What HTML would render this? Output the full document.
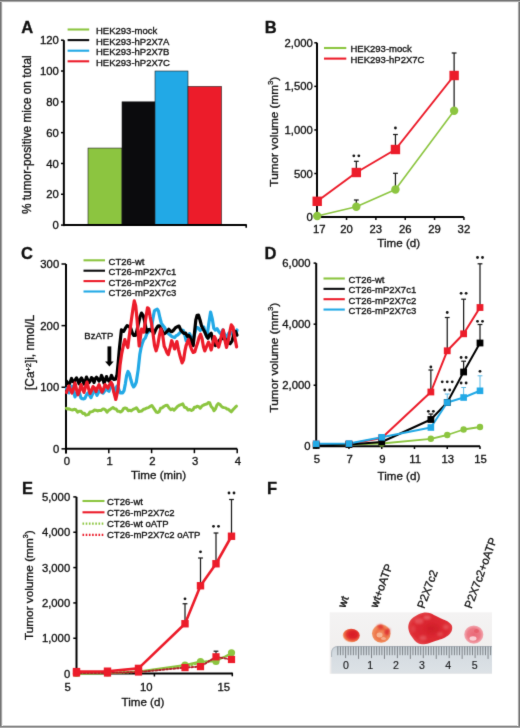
<!DOCTYPE html>
<html><head><meta charset="utf-8"><style>
html,body{margin:0;padding:0;background:#fff;}
#wrap{position:relative;width:520px;height:728px;overflow:hidden;background:#fff;}
svg{position:absolute;left:0;top:0;}
svg text{font-family:"Liberation Sans",sans-serif;fill:#111;stroke:#111;stroke-width:0.32px;}

</style></head><body><div id="wrap">
<svg width="520" height="728" viewBox="0 0 520 728">
<defs><filter id="glob" x="0" y="0" width="520" height="728" filterUnits="userSpaceOnUse" color-interpolation-filters="sRGB"><feConvolveMatrix order="3" kernelMatrix="0.01 0.08 0.01 0.08 0.64 0.08 0.01 0.08 0.01" divisor="1" edgeMode="duplicate" preserveAlpha="true"/></filter></defs>
<g filter="url(#glob)">
<rect x="0" y="0" width="520" height="728" fill="#fff"/>
<text x="21.30" y="33.20" font-size="16.5" text-anchor="start" font-weight="bold" >A</text>
<rect x="88" y="148.06" width="34" height="77.04" fill="#8cc540" stroke="#222" stroke-width="0.6"/>
<rect x="122" y="101.83" width="33" height="123.27" fill="#0b0b0d" stroke="#222" stroke-width="0.6"/>
<rect x="155" y="71.02" width="33" height="154.08" fill="#22a9e6" stroke="#222" stroke-width="0.6"/>
<rect x="188" y="86.43" width="33.5" height="138.67" fill="#ec1c2a" stroke="#222" stroke-width="0.6"/>
<line x1="63.85" y1="40.20" x2="63.85" y2="226.10" stroke="#000" stroke-width="2.0" />
<line x1="62.95" y1="225.10" x2="246.20" y2="225.10" stroke="#000" stroke-width="2.0" />
<line x1="246.20" y1="224.20" x2="246.20" y2="227.80" stroke="#000" stroke-width="1.6" />
<line x1="61.00" y1="225.10" x2="63.85" y2="225.10" stroke="#000" stroke-width="1.5" />
<text x="58.80" y="229.20" font-size="11.3" text-anchor="end" font-weight="normal" >0</text>
<line x1="61.00" y1="194.28" x2="63.85" y2="194.28" stroke="#000" stroke-width="1.5" />
<text x="58.80" y="198.38" font-size="11.3" text-anchor="end" font-weight="normal" >20</text>
<line x1="61.00" y1="163.47" x2="63.85" y2="163.47" stroke="#000" stroke-width="1.5" />
<text x="58.80" y="167.57" font-size="11.3" text-anchor="end" font-weight="normal" >40</text>
<line x1="61.00" y1="132.65" x2="63.85" y2="132.65" stroke="#000" stroke-width="1.5" />
<text x="58.80" y="136.75" font-size="11.3" text-anchor="end" font-weight="normal" >60</text>
<line x1="61.00" y1="101.83" x2="63.85" y2="101.83" stroke="#000" stroke-width="1.5" />
<text x="58.80" y="105.93" font-size="11.3" text-anchor="end" font-weight="normal" >80</text>
<line x1="61.00" y1="71.02" x2="63.85" y2="71.02" stroke="#000" stroke-width="1.5" />
<text x="58.80" y="75.12" font-size="11.3" text-anchor="end" font-weight="normal" >100</text>
<line x1="61.00" y1="40.20" x2="63.85" y2="40.20" stroke="#000" stroke-width="1.5" />
<text x="58.80" y="44.30" font-size="11.3" text-anchor="end" font-weight="normal" >120</text>
<text transform="translate(31.40,134.70) rotate(-90)" font-size="11.85" text-anchor="middle">% tumor-positive mice on total</text>
<line x1="67.60" y1="29.50" x2="89.20" y2="29.50" stroke="#8cc540" stroke-width="2.1" />
<text x="96.00" y="33.90" font-size="9.5" text-anchor="start" font-weight="normal" >HEK293-mock</text>
<line x1="67.60" y1="40.10" x2="89.20" y2="40.10" stroke="#0b0b0d" stroke-width="2.1" />
<text x="96.00" y="44.50" font-size="9.5" text-anchor="start" font-weight="normal" >HEK293-hP2X7A</text>
<line x1="67.60" y1="50.70" x2="89.20" y2="50.70" stroke="#22a9e6" stroke-width="2.1" />
<text x="96.00" y="55.10" font-size="9.5" text-anchor="start" font-weight="normal" >HEK293-hP2X7B</text>
<line x1="67.60" y1="61.30" x2="89.20" y2="61.30" stroke="#ec1c2a" stroke-width="2.1" />
<text x="96.00" y="65.70" font-size="9.5" text-anchor="start" font-weight="normal" >HEK293-hP2X7C</text>
<text x="264.80" y="33.30" font-size="16.5" text-anchor="start" font-weight="bold" >B</text>
<line x1="317.00" y1="42.80" x2="317.00" y2="218.00" stroke="#000" stroke-width="2.0" />
<line x1="316.10" y1="217.10" x2="463.80" y2="217.10" stroke="#000" stroke-width="2.0" />
<line x1="314.30" y1="217.10" x2="317.00" y2="217.10" stroke="#000" stroke-width="1.5" />
<text x="312.80" y="221.20" font-size="11.3" text-anchor="end" font-weight="normal" >0</text>
<line x1="314.30" y1="173.52" x2="317.00" y2="173.52" stroke="#000" stroke-width="1.5" />
<text x="312.80" y="177.62" font-size="11.3" text-anchor="end" font-weight="normal" >500</text>
<line x1="314.30" y1="129.95" x2="317.00" y2="129.95" stroke="#000" stroke-width="1.5" />
<text x="312.80" y="134.05" font-size="11.3" text-anchor="end" font-weight="normal" >1,000</text>
<line x1="314.30" y1="86.37" x2="317.00" y2="86.37" stroke="#000" stroke-width="1.5" />
<text x="312.80" y="90.47" font-size="11.3" text-anchor="end" font-weight="normal" >1,500</text>
<line x1="314.30" y1="42.80" x2="317.00" y2="42.80" stroke="#000" stroke-width="1.5" />
<text x="312.80" y="46.90" font-size="11.3" text-anchor="end" font-weight="normal" >2,000</text>
<line x1="317.20" y1="217.10" x2="317.20" y2="220.00" stroke="#000" stroke-width="1.5" />
<text x="319.20" y="233.00" font-size="11.3" text-anchor="middle" font-weight="normal" >17</text>
<line x1="346.54" y1="217.10" x2="346.54" y2="220.00" stroke="#000" stroke-width="1.5" />
<text x="346.54" y="233.00" font-size="11.3" text-anchor="middle" font-weight="normal" >20</text>
<line x1="375.88" y1="217.10" x2="375.88" y2="220.00" stroke="#000" stroke-width="1.5" />
<text x="375.88" y="233.00" font-size="11.3" text-anchor="middle" font-weight="normal" >23</text>
<line x1="405.22" y1="217.10" x2="405.22" y2="220.00" stroke="#000" stroke-width="1.5" />
<text x="405.22" y="233.00" font-size="11.3" text-anchor="middle" font-weight="normal" >26</text>
<line x1="434.56" y1="217.10" x2="434.56" y2="220.00" stroke="#000" stroke-width="1.5" />
<text x="434.56" y="233.00" font-size="11.3" text-anchor="middle" font-weight="normal" >29</text>
<line x1="463.90" y1="217.10" x2="463.90" y2="220.00" stroke="#000" stroke-width="1.5" />
<text x="463.90" y="233.00" font-size="11.3" text-anchor="middle" font-weight="normal" >32</text>
<text x="398.70" y="247.20" font-size="11.6" text-anchor="middle" font-weight="normal" >Time (d)</text>
<text transform="translate(277.90,131.75) rotate(-90)" font-size="11.8" text-anchor="middle">Tumor volume (mm<tspan font-size="7.2" dy="-4.6">3</tspan><tspan dy="4.6">)</tspan></text>
<line x1="324.00" y1="48.00" x2="346.30" y2="48.00" stroke="#8cc540" stroke-width="2.1" />
<text x="350.50" y="52.40" font-size="9.5" text-anchor="start" font-weight="normal" >HEK293-mock</text>
<line x1="324.00" y1="58.60" x2="346.30" y2="58.60" stroke="#ec1c2a" stroke-width="2.1" />
<text x="350.50" y="63.00" font-size="9.5" text-anchor="start" font-weight="normal" >HEK293-hP2X7C</text>
<line x1="356.32" y1="206.80" x2="356.32" y2="200.00" stroke="#1a1a1a" stroke-width="1.25" />
<line x1="353.92" y1="200.00" x2="358.72" y2="200.00" stroke="#1a1a1a" stroke-width="1.25" />
<line x1="395.44" y1="189.50" x2="395.44" y2="173.30" stroke="#1a1a1a" stroke-width="1.25" />
<line x1="393.04" y1="173.30" x2="397.84" y2="173.30" stroke="#1a1a1a" stroke-width="1.25" />
<line x1="454.12" y1="110.80" x2="454.12" y2="75.50" stroke="#1a1a1a" stroke-width="1.25" />
<line x1="451.72" y1="75.50" x2="456.52" y2="75.50" stroke="#1a1a1a" stroke-width="1.25" />
<line x1="317.20" y1="216.00" x2="317.20" y2="201.00" stroke="#1a1a1a" stroke-width="1.25" />
<line x1="314.80" y1="201.00" x2="319.60" y2="201.00" stroke="#1a1a1a" stroke-width="1.25" />
<line x1="356.32" y1="172.50" x2="356.32" y2="161.30" stroke="#1a1a1a" stroke-width="1.25" />
<line x1="353.92" y1="161.30" x2="358.72" y2="161.30" stroke="#1a1a1a" stroke-width="1.25" />
<line x1="395.44" y1="149.50" x2="395.44" y2="134.50" stroke="#1a1a1a" stroke-width="1.25" />
<line x1="393.04" y1="134.50" x2="397.84" y2="134.50" stroke="#1a1a1a" stroke-width="1.25" />
<line x1="454.12" y1="75.50" x2="454.12" y2="53.00" stroke="#1a1a1a" stroke-width="1.25" />
<line x1="451.72" y1="53.00" x2="456.52" y2="53.00" stroke="#1a1a1a" stroke-width="1.25" />
<polyline points="317.20,216.00 356.32,206.80 395.44,189.50 454.12,110.80" fill="none" stroke="#8cc540" stroke-width="1.6" stroke-linejoin="round" stroke-linecap="round" />
<polyline points="317.20,201.30 356.32,172.50 395.44,149.50 454.12,75.50" fill="none" stroke="#ec1c2a" stroke-width="2.0" stroke-linejoin="round" stroke-linecap="round" />
<circle cx="317.20" cy="216.00" r="4.2" fill="#8cc540"/>
<circle cx="356.32" cy="206.80" r="4.2" fill="#8cc540"/>
<circle cx="395.44" cy="189.50" r="4.2" fill="#8cc540"/>
<circle cx="454.12" cy="110.80" r="4.2" fill="#8cc540"/>
<rect x="312.50" y="196.60" width="9.4" height="9.4" fill="#ec1c2a"/>
<rect x="351.62" y="167.80" width="9.4" height="9.4" fill="#ec1c2a"/>
<rect x="390.74" y="144.80" width="9.4" height="9.4" fill="#ec1c2a"/>
<rect x="449.42" y="70.80" width="9.4" height="9.4" fill="#ec1c2a"/>
<circle cx="353.82" cy="155.80" r="1.4" fill="#151515"/>
<circle cx="358.82" cy="155.80" r="1.4" fill="#151515"/>
<circle cx="395.44" cy="128.00" r="1.4" fill="#151515"/>
<text x="21.00" y="259.30" font-size="16.5" text-anchor="start" font-weight="bold" >C</text>
<line x1="66.00" y1="264.00" x2="66.00" y2="453.50" stroke="#000" stroke-width="2.0" />
<line x1="65.10" y1="448.85" x2="237.20" y2="448.85" stroke="#000" stroke-width="2.0" />
<line x1="61.50" y1="448.85" x2="66.00" y2="448.85" stroke="#000" stroke-width="1.5" />
<text x="59.20" y="452.95" font-size="11.3" text-anchor="end" font-weight="normal" >0</text>
<line x1="61.50" y1="387.23" x2="66.00" y2="387.23" stroke="#000" stroke-width="1.5" />
<text x="59.20" y="391.33" font-size="11.3" text-anchor="end" font-weight="normal" >100</text>
<line x1="61.50" y1="325.62" x2="66.00" y2="325.62" stroke="#000" stroke-width="1.5" />
<text x="59.20" y="329.72" font-size="11.3" text-anchor="end" font-weight="normal" >200</text>
<line x1="61.50" y1="264.00" x2="66.00" y2="264.00" stroke="#000" stroke-width="1.5" />
<text x="59.20" y="268.10" font-size="11.3" text-anchor="end" font-weight="normal" >300</text>
<line x1="66.00" y1="448.85" x2="66.00" y2="453.20" stroke="#000" stroke-width="1.5" />
<text x="66.80" y="465.00" font-size="11.3" text-anchor="middle" font-weight="normal" >0</text>
<line x1="108.80" y1="448.85" x2="108.80" y2="453.20" stroke="#000" stroke-width="1.5" />
<text x="109.60" y="465.00" font-size="11.3" text-anchor="middle" font-weight="normal" >1</text>
<line x1="151.60" y1="448.85" x2="151.60" y2="453.20" stroke="#000" stroke-width="1.5" />
<text x="152.40" y="465.00" font-size="11.3" text-anchor="middle" font-weight="normal" >2</text>
<line x1="194.40" y1="448.85" x2="194.40" y2="453.20" stroke="#000" stroke-width="1.5" />
<text x="195.20" y="465.00" font-size="11.3" text-anchor="middle" font-weight="normal" >3</text>
<line x1="237.20" y1="448.85" x2="237.20" y2="453.20" stroke="#000" stroke-width="1.5" />
<text x="238.00" y="465.00" font-size="11.3" text-anchor="middle" font-weight="normal" >4</text>
<text x="158.60" y="479.00" font-size="11.6" text-anchor="middle" font-weight="normal" >Time (min)</text>
<text transform="translate(34.20,352.40) rotate(-90)" font-size="11.9" text-anchor="middle">[Ca<tspan font-size="7.3" dy="-3.6">+2</tspan><tspan dy="3.6">]i, nmol/L</tspan></text>
<line x1="83.50" y1="260.30" x2="105.00" y2="260.30" stroke="#8cc540" stroke-width="2.1" />
<text x="108.60" y="264.70" font-size="9.5" text-anchor="start" font-weight="normal" >CT26-wt</text>
<line x1="83.50" y1="270.70" x2="105.00" y2="270.70" stroke="#0b0b0d" stroke-width="2.1" />
<text x="108.60" y="275.10" font-size="9.5" text-anchor="start" font-weight="normal" >CT26-mP2X7c1</text>
<line x1="83.50" y1="281.10" x2="105.00" y2="281.10" stroke="#ec1c2a" stroke-width="2.1" />
<text x="108.60" y="285.50" font-size="9.5" text-anchor="start" font-weight="normal" >CT26-mP2X7c2</text>
<line x1="83.50" y1="291.50" x2="105.00" y2="291.50" stroke="#22a9e6" stroke-width="2.1" />
<text x="108.60" y="295.90" font-size="9.5" text-anchor="start" font-weight="normal" >CT26-mP2X7c3</text>
<text x="98.80" y="338.50" font-size="9.5" text-anchor="middle" font-weight="normal" >BzATP</text>
<rect x="107.5" y="346.4" width="3.8" height="16" fill="#000"/>
<polygon points="105.1,361.6 113.7,361.6 109.4,366.4" fill="#000"/>
<polyline points="66.30,408.22 67.42,409.04 69.03,408.86 70.80,409.63 72.40,409.98 74.20,409.28 75.90,409.79 77.60,412.14 79.37,411.17 81.13,411.32 82.80,413.39 84.30,413.20 85.70,415.16 87.10,414.85 88.53,414.42 89.97,411.89 91.40,411.70 92.86,411.38 94.33,410.00 95.70,410.23 97.50,410.98 99.20,410.44 100.90,410.61 102.70,409.00 104.01,409.10 105.41,409.82 107.00,412.20 108.38,410.55 109.89,409.63 111.45,408.57 113.00,407.57 114.52,408.66 116.05,408.91 117.58,411.27 119.10,411.28 120.60,412.09 122.10,411.09 123.60,408.42 125.10,408.00 126.64,408.42 128.20,410.72 129.74,410.22 131.20,410.88 133.10,409.40 134.89,408.60 136.40,407.75 137.65,409.42 139.00,411.59 140.28,411.18 141.85,410.91 143.49,409.30 145.00,408.94 146.80,407.97 148.48,407.62 150.00,406.58 151.79,405.47 153.50,407.89 154.87,409.92 156.34,412.07 157.80,412.45 159.20,411.65 160.60,408.26 162.10,407.83 163.77,406.48 165.53,405.54 167.30,405.24 169.07,408.01 170.83,409.83 172.50,408.79 174.00,410.28 175.40,408.75 176.80,407.23 178.20,405.96 179.60,405.12 181.10,404.52 182.77,403.86 184.53,407.31 186.30,407.80 188.07,410.05 189.83,409.51 191.50,410.54 193.00,409.72 194.39,407.15 195.80,407.30 197.23,406.18 198.67,406.67 200.20,408.22 201.91,406.09 203.70,405.00 205.40,404.30 206.90,404.02 208.30,402.61 209.70,402.69 211.13,406.45 212.57,407.93 214.00,410.71 215.43,409.11 216.86,405.18 218.30,403.61 219.76,404.27 221.24,406.12 222.70,407.31 224.14,407.62 225.57,407.87 227.00,408.97 228.40,409.28 229.80,410.66 231.30,411.88 233.16,409.53 235.12,407.43 236.50,406.20" fill="none" stroke="#8cc540" stroke-width="3.0" stroke-linejoin="round" stroke-linecap="round" />
<polyline points="66.50,388.47 67.56,390.58 69.00,392.79 70.47,389.00 72.00,386.13 73.50,391.30 75.00,396.84 76.50,393.66 78.00,390.53 79.44,393.01 81.00,398.07 82.30,398.70 83.70,398.86 85.00,398.21 86.56,394.68 88.00,392.85 89.50,395.16 91.00,397.61 92.50,394.10 94.00,389.39 95.50,392.06 97.00,395.25 98.50,392.46 100.00,389.71 101.50,392.26 103.00,393.17 104.50,391.27 106.00,388.34 107.55,390.20 109.00,391.36 111.20,382.95 112.55,385.93 114.00,391.87 115.49,389.36 117.00,386.10 118.44,388.41 120.00,392.82 121.26,392.69 122.63,392.96 124.00,390.70 125.33,383.83 126.65,375.59 128.00,371.50 129.39,373.84 130.80,379.56 132.20,384.41 133.60,386.93 134.98,385.19 136.30,382.09 138.15,369.87 139.80,354.56 140.98,348.09 142.30,343.34 143.68,339.76 145.29,338.00 146.90,333.59 148.50,331.90 150.09,329.61 151.50,327.57 152.98,318.32 154.40,310.81 155.73,309.92 157.19,309.20 158.50,311.22 159.94,317.97 161.30,323.00 162.90,325.58 164.80,327.86 166.43,331.26 168.25,333.56 170.00,334.87 171.59,336.44 173.10,336.98 174.60,337.62 176.09,335.69 177.55,335.12 179.00,333.79 180.50,332.13 181.98,330.05 183.30,330.52 184.75,334.67 186.10,340.68 187.84,338.22 189.60,333.65 191.09,337.60 192.60,342.49 194.41,334.65 196.30,327.34 198.14,327.71 200.00,330.38 201.94,329.03 203.80,327.07 205.36,333.07 206.90,337.22 208.74,323.85 210.60,312.02 212.23,318.58 213.80,328.24 215.40,330.13 217.00,328.63 218.64,331.39 220.20,333.39 221.50,332.87 222.80,329.85 224.30,333.75 226.00,337.52 227.33,336.04 228.76,333.15 230.20,332.35 231.66,332.67 233.12,335.12 234.40,337.28 235.96,333.48 237.00,330.00" fill="none" stroke="#22a9e6" stroke-width="3.2" stroke-linejoin="round" stroke-linecap="round" />
<polyline points="66.50,381.25 67.59,383.36 69.00,384.59 70.25,381.76 71.50,378.48 72.75,381.34 74.00,382.06 75.25,379.87 76.50,377.89 77.75,380.24 79.00,383.80 80.25,379.73 81.50,377.94 82.75,380.56 84.00,384.09 85.25,381.21 86.50,377.03 87.75,379.93 89.00,382.56 90.25,380.83 91.50,377.53 92.75,378.76 94.00,382.59 95.25,378.78 96.50,377.23 97.75,378.82 99.00,381.00 100.25,379.68 101.50,375.42 102.75,378.37 104.00,382.96 105.25,380.37 106.50,376.58 107.75,379.92 109.00,381.08 110.25,378.92 111.50,375.41 112.72,378.38 114.00,379.38 115.50,379.25 117.00,374.79 118.32,361.38 119.50,347.72 121.40,329.83 123.70,331.29 125.40,328.18 127.10,325.60 129.40,326.91 130.85,328.45 132.54,333.49 133.90,335.48 135.40,335.42 136.67,331.63 138.36,323.89 140.09,316.75 141.50,313.06 143.24,315.68 144.50,320.61 146.70,332.25 148.24,329.56 150.00,329.50 151.29,330.96 152.65,331.28 154.00,333.58 155.94,329.17 157.90,326.16 159.29,325.87 160.71,328.13 162.00,330.36 163.52,334.07 165.00,333.39 166.89,331.67 168.80,329.26 170.29,331.11 172.00,331.69 173.70,330.01 175.66,327.59 177.50,326.55 179.04,326.09 180.48,329.47 182.00,331.59 183.80,333.32 185.70,333.21 187.30,336.29 188.78,335.34 190.00,336.98 191.61,342.93 193.20,345.54 194.53,332.37 195.80,320.15 197.12,315.26 198.50,315.22 200.08,320.28 201.60,326.05 203.80,330.16 205.09,332.60 206.60,336.20 208.00,338.29 209.60,334.74 211.20,333.30 212.53,338.62 213.96,342.79 215.40,345.61 216.76,344.24 218.12,341.91 219.60,340.05 221.29,338.68 223.09,338.69 224.90,338.51 226.67,341.98 228.43,342.43 230.20,343.69 232.11,340.78 234.01,333.87 235.50,331.46 237.00,335.20" fill="none" stroke="#000" stroke-width="3.2" stroke-linejoin="round" stroke-linecap="round" />
<polyline points="66.50,392.59 67.56,389.14 69.00,385.97 70.47,389.84 72.00,393.00 73.50,388.58 75.00,382.94 76.50,389.46 78.00,394.75 79.50,390.85 81.00,384.55 82.50,389.10 84.00,392.46 85.50,386.52 87.00,382.08 88.50,388.24 90.00,393.39 91.50,390.54 93.00,386.61 94.50,387.97 96.00,391.61 97.50,387.62 99.00,384.69 100.50,388.30 102.00,392.19 103.50,389.35 105.00,384.61 106.50,386.27 108.00,388.19 109.53,384.71 111.00,382.27 112.29,384.56 113.50,390.90 115.80,399.48 118.00,389.40 120.00,365.31 121.68,353.55 123.30,345.87 124.80,339.62 126.25,343.78 127.80,347.49 130.10,329.40 131.42,319.61 132.95,308.96 134.30,300.86 135.72,305.98 136.90,317.90 139.20,346.01 141.50,329.18 143.70,332.18 145.49,320.35 147.50,307.75 148.80,308.80 150.11,316.37 151.50,323.42 152.99,333.45 154.54,345.57 156.10,350.78 157.71,345.49 159.33,335.72 160.80,328.80 162.54,334.13 164.20,346.26 165.54,348.89 166.96,352.65 168.30,354.61 170.08,347.69 171.70,340.71 173.22,344.54 174.60,348.98 176.90,341.55 178.46,349.60 180.35,357.08 182.10,362.85 183.59,359.74 184.94,350.95 186.10,345.56 188.40,339.49 189.88,344.40 191.63,349.51 193.20,352.44 194.78,351.83 196.30,346.79 197.65,342.79 199.13,337.11 200.60,334.23 202.03,338.56 203.44,346.74 204.80,350.92 206.74,346.05 208.50,342.09 209.89,345.53 211.20,349.98 212.65,344.14 214.30,336.64 215.63,338.87 217.09,344.08 218.60,347.08 220.19,341.66 221.83,333.55 223.30,329.90 224.89,340.21 226.50,347.41 228.04,341.75 229.77,332.14 231.30,324.82 233.01,327.25 234.40,335.15 236.60,346.90" fill="none" stroke="#ec1c2a" stroke-width="3.2" stroke-linejoin="round" stroke-linecap="round" />
<text x="264.60" y="259.40" font-size="16.5" text-anchor="start" font-weight="bold" >D</text>
<line x1="316.20" y1="263.10" x2="316.20" y2="448.00" stroke="#000" stroke-width="2.0" />
<line x1="315.30" y1="446.30" x2="480.00" y2="446.30" stroke="#000" stroke-width="2.0" />
<line x1="313.60" y1="446.30" x2="316.20" y2="446.30" stroke="#000" stroke-width="1.5" />
<text x="310.60" y="450.40" font-size="11.3" text-anchor="end" font-weight="normal" >0</text>
<line x1="313.60" y1="385.23" x2="316.20" y2="385.23" stroke="#000" stroke-width="1.5" />
<text x="310.60" y="389.33" font-size="11.3" text-anchor="end" font-weight="normal" >2,000</text>
<line x1="313.60" y1="324.17" x2="316.20" y2="324.17" stroke="#000" stroke-width="1.5" />
<text x="310.60" y="328.27" font-size="11.3" text-anchor="end" font-weight="normal" >4,000</text>
<line x1="313.60" y1="263.10" x2="316.20" y2="263.10" stroke="#000" stroke-width="1.5" />
<text x="310.60" y="267.20" font-size="11.3" text-anchor="end" font-weight="normal" >6,000</text>
<line x1="316.20" y1="446.30" x2="316.20" y2="449.00" stroke="#000" stroke-width="1.5" />
<text x="316.80" y="462.80" font-size="11.3" text-anchor="middle" font-weight="normal" >5</text>
<line x1="348.96" y1="446.30" x2="348.96" y2="449.00" stroke="#000" stroke-width="1.5" />
<text x="349.56" y="462.80" font-size="11.3" text-anchor="middle" font-weight="normal" >7</text>
<line x1="381.72" y1="446.30" x2="381.72" y2="449.00" stroke="#000" stroke-width="1.5" />
<text x="382.32" y="462.80" font-size="11.3" text-anchor="middle" font-weight="normal" >9</text>
<line x1="414.48" y1="446.30" x2="414.48" y2="449.00" stroke="#000" stroke-width="1.5" />
<text x="415.08" y="462.80" font-size="11.3" text-anchor="middle" font-weight="normal" >11</text>
<line x1="447.24" y1="446.30" x2="447.24" y2="449.00" stroke="#000" stroke-width="1.5" />
<text x="447.84" y="462.80" font-size="11.3" text-anchor="middle" font-weight="normal" >13</text>
<line x1="480.00" y1="446.30" x2="480.00" y2="449.00" stroke="#000" stroke-width="1.5" />
<text x="480.60" y="462.80" font-size="11.3" text-anchor="middle" font-weight="normal" >15</text>
<text x="398.90" y="479.90" font-size="11.6" text-anchor="middle" font-weight="normal" >Time (d)</text>
<text transform="translate(277.90,357.65) rotate(-90)" font-size="11.8" text-anchor="middle">Tumor volume (mm<tspan font-size="7.2" dy="-4.6">3</tspan><tspan dy="4.6">)</tspan></text>
<line x1="323.50" y1="278.50" x2="344.80" y2="278.50" stroke="#8cc540" stroke-width="2.1" />
<text x="348.60" y="282.90" font-size="9.5" text-anchor="start" font-weight="normal" >CT26-wt</text>
<line x1="323.50" y1="288.85" x2="344.80" y2="288.85" stroke="#0b0b0d" stroke-width="2.1" />
<text x="348.60" y="293.25" font-size="9.5" text-anchor="start" font-weight="normal" >CT26-mP2X7c1</text>
<line x1="323.50" y1="299.20" x2="344.80" y2="299.20" stroke="#ec1c2a" stroke-width="2.1" />
<text x="348.60" y="303.60" font-size="9.5" text-anchor="start" font-weight="normal" >CT26-mP2X7c2</text>
<line x1="323.50" y1="309.55" x2="344.80" y2="309.55" stroke="#22a9e6" stroke-width="2.1" />
<text x="348.60" y="313.95" font-size="9.5" text-anchor="start" font-weight="normal" >CT26-mP2X7c3</text>
<line x1="430.86" y1="392.00" x2="430.86" y2="370.00" stroke="#1a1a1a" stroke-width="1.25" />
<line x1="428.46" y1="370.00" x2="433.26" y2="370.00" stroke="#1a1a1a" stroke-width="1.25" />
<line x1="447.24" y1="350.80" x2="447.24" y2="317.50" stroke="#1a1a1a" stroke-width="1.25" />
<line x1="444.84" y1="317.50" x2="449.64" y2="317.50" stroke="#1a1a1a" stroke-width="1.25" />
<line x1="463.62" y1="333.80" x2="463.62" y2="299.20" stroke="#1a1a1a" stroke-width="1.25" />
<line x1="461.22" y1="299.20" x2="466.02" y2="299.20" stroke="#1a1a1a" stroke-width="1.25" />
<line x1="480.00" y1="307.50" x2="480.00" y2="263.80" stroke="#1a1a1a" stroke-width="1.25" />
<line x1="477.60" y1="263.80" x2="482.40" y2="263.80" stroke="#1a1a1a" stroke-width="1.25" />
<line x1="480.00" y1="343.00" x2="480.00" y2="324.50" stroke="#1a1a1a" stroke-width="1.25" />
<line x1="477.60" y1="324.50" x2="482.40" y2="324.50" stroke="#1a1a1a" stroke-width="1.25" />
<line x1="463.62" y1="372.00" x2="463.62" y2="361.20" stroke="#1a1a1a" stroke-width="1.25" />
<line x1="461.22" y1="361.20" x2="466.02" y2="361.20" stroke="#1a1a1a" stroke-width="1.25" />
<line x1="430.86" y1="419.50" x2="430.86" y2="414.00" stroke="#1a1a1a" stroke-width="1.25" />
<line x1="428.46" y1="414.00" x2="433.26" y2="414.00" stroke="#1a1a1a" stroke-width="1.25" />
<line x1="463.62" y1="397.50" x2="463.62" y2="387.50" stroke="#5ab8e4" stroke-width="1.0" />
<line x1="461.22" y1="387.50" x2="466.02" y2="387.50" stroke="#5ab8e4" stroke-width="1.0" />
<line x1="480.00" y1="390.80" x2="480.00" y2="375.80" stroke="#5ab8e4" stroke-width="1.0" />
<line x1="477.60" y1="375.80" x2="482.40" y2="375.80" stroke="#5ab8e4" stroke-width="1.0" />
<line x1="447.24" y1="402.50" x2="447.24" y2="394.00" stroke="#5ab8e4" stroke-width="1.0" />
<line x1="444.84" y1="394.00" x2="449.64" y2="394.00" stroke="#5ab8e4" stroke-width="1.0" />
<polyline points="316.20,444.50 348.96,444.50 381.72,443.50 430.86,438.80 447.24,435.00 463.62,429.50 480.00,427.00" fill="none" stroke="#8cc540" stroke-width="1.8" stroke-linejoin="round" stroke-linecap="round" />
<polyline points="316.20,444.00 348.96,444.00 381.72,438.00 430.86,392.00 447.24,350.80 463.62,333.80 480.00,307.50" fill="none" stroke="#ec1c2a" stroke-width="2.0" stroke-linejoin="round" stroke-linecap="round" />
<polyline points="316.20,445.50 348.96,444.50 381.72,442.00 430.86,419.50 447.24,402.50 463.62,372.00 480.00,343.00" fill="none" stroke="#000" stroke-width="2.0" stroke-linejoin="round" stroke-linecap="round" />
<polyline points="316.20,443.80 348.96,443.60 381.72,437.30 430.86,427.50 447.24,402.50 463.62,397.50 480.00,390.80" fill="none" stroke="#22a9e6" stroke-width="2.0" stroke-linejoin="round" stroke-linecap="round" />
<circle cx="316.20" cy="444.50" r="3.2" fill="#8cc540"/>
<circle cx="348.96" cy="444.50" r="3.2" fill="#8cc540"/>
<circle cx="381.72" cy="443.50" r="3.2" fill="#8cc540"/>
<circle cx="430.86" cy="438.80" r="3.2" fill="#8cc540"/>
<circle cx="447.24" cy="435.00" r="3.2" fill="#8cc540"/>
<circle cx="463.62" cy="429.50" r="3.2" fill="#8cc540"/>
<circle cx="480.00" cy="427.00" r="3.2" fill="#8cc540"/>
<rect x="312.80" y="440.60" width="6.8" height="6.8" fill="#ec1c2a"/>
<rect x="345.56" y="440.60" width="6.8" height="6.8" fill="#ec1c2a"/>
<rect x="378.32" y="434.60" width="6.8" height="6.8" fill="#ec1c2a"/>
<rect x="427.46" y="388.60" width="6.8" height="6.8" fill="#ec1c2a"/>
<rect x="443.84" y="347.40" width="6.8" height="6.8" fill="#ec1c2a"/>
<rect x="460.22" y="330.40" width="6.8" height="6.8" fill="#ec1c2a"/>
<rect x="476.60" y="304.10" width="6.8" height="6.8" fill="#ec1c2a"/>
<rect x="312.80" y="442.10" width="6.8" height="6.8" fill="#000"/>
<rect x="345.56" y="441.10" width="6.8" height="6.8" fill="#000"/>
<rect x="378.32" y="438.60" width="6.8" height="6.8" fill="#000"/>
<rect x="427.46" y="416.10" width="6.8" height="6.8" fill="#000"/>
<rect x="443.84" y="399.10" width="6.8" height="6.8" fill="#000"/>
<rect x="460.22" y="368.60" width="6.8" height="6.8" fill="#000"/>
<rect x="476.60" y="339.60" width="6.8" height="6.8" fill="#000"/>
<rect x="312.90" y="440.50" width="6.6" height="6.6" fill="#22a9e6"/>
<rect x="345.66" y="440.30" width="6.6" height="6.6" fill="#22a9e6"/>
<rect x="378.42" y="434.00" width="6.6" height="6.6" fill="#22a9e6"/>
<rect x="427.56" y="424.20" width="6.6" height="6.6" fill="#22a9e6"/>
<rect x="443.94" y="399.20" width="6.6" height="6.6" fill="#22a9e6"/>
<rect x="460.32" y="394.20" width="6.6" height="6.6" fill="#22a9e6"/>
<rect x="476.70" y="387.50" width="6.6" height="6.6" fill="#22a9e6"/>
<circle cx="430.86" cy="367.00" r="1.4" fill="#151515"/>
<circle cx="447.24" cy="312.50" r="1.4" fill="#151515"/>
<circle cx="461.12" cy="293.30" r="1.4" fill="#151515"/>
<circle cx="466.12" cy="293.30" r="1.4" fill="#151515"/>
<circle cx="477.50" cy="257.50" r="1.4" fill="#151515"/>
<circle cx="482.50" cy="257.50" r="1.4" fill="#151515"/>
<circle cx="477.50" cy="321.30" r="1.4" fill="#151515"/>
<circle cx="482.50" cy="321.30" r="1.4" fill="#151515"/>
<circle cx="461.12" cy="357.50" r="1.4" fill="#151515"/>
<circle cx="466.12" cy="357.50" r="1.4" fill="#151515"/>
<circle cx="428.36" cy="411.30" r="1.4" fill="#151515"/>
<circle cx="433.36" cy="411.30" r="1.4" fill="#151515"/>
<circle cx="442.24" cy="381.80" r="1.4" fill="#151515"/>
<circle cx="447.24" cy="381.80" r="1.4" fill="#151515"/>
<circle cx="452.24" cy="381.80" r="1.4" fill="#151515"/>
<circle cx="444.74" cy="390.00" r="1.4" fill="#151515"/>
<circle cx="449.74" cy="390.00" r="1.4" fill="#151515"/>
<circle cx="461.12" cy="383.00" r="1.4" fill="#151515"/>
<circle cx="466.12" cy="383.00" r="1.4" fill="#151515"/>
<circle cx="480.00" cy="371.30" r="1.4" fill="#151515"/>
<text x="22.00" y="494.30" font-size="16.5" text-anchor="start" font-weight="bold" >E</text>
<line x1="76.50" y1="496.90" x2="76.50" y2="674.50" stroke="#000" stroke-width="2.0" />
<line x1="75.60" y1="673.60" x2="232.30" y2="673.60" stroke="#000" stroke-width="2.0" />
<line x1="232.30" y1="672.70" x2="232.30" y2="676.30" stroke="#000" stroke-width="1.5" />
<line x1="154.40" y1="673.60" x2="154.40" y2="676.50" stroke="#000" stroke-width="1.5" />
<line x1="73.30" y1="673.60" x2="76.50" y2="673.60" stroke="#000" stroke-width="1.5" />
<text x="70.20" y="677.70" font-size="11.3" text-anchor="end" font-weight="normal" >0</text>
<line x1="73.30" y1="638.26" x2="76.50" y2="638.26" stroke="#000" stroke-width="1.5" />
<text x="70.20" y="642.36" font-size="11.3" text-anchor="end" font-weight="normal" >1,000</text>
<line x1="73.30" y1="602.92" x2="76.50" y2="602.92" stroke="#000" stroke-width="1.5" />
<text x="70.20" y="607.02" font-size="11.3" text-anchor="end" font-weight="normal" >2,000</text>
<line x1="73.30" y1="567.58" x2="76.50" y2="567.58" stroke="#000" stroke-width="1.5" />
<text x="70.20" y="571.68" font-size="11.3" text-anchor="end" font-weight="normal" >3,000</text>
<line x1="73.30" y1="532.24" x2="76.50" y2="532.24" stroke="#000" stroke-width="1.5" />
<text x="70.20" y="536.34" font-size="11.3" text-anchor="end" font-weight="normal" >4,000</text>
<line x1="73.30" y1="496.90" x2="76.50" y2="496.90" stroke="#000" stroke-width="1.5" />
<text x="70.20" y="501.00" font-size="11.3" text-anchor="end" font-weight="normal" >5,000</text>
<text x="67.70" y="690.80" font-size="11.3" text-anchor="middle" font-weight="normal" >5</text>
<text x="146.30" y="690.80" font-size="11.3" text-anchor="middle" font-weight="normal" >10</text>
<text x="223.80" y="690.80" font-size="11.3" text-anchor="middle" font-weight="normal" >15</text>
<text x="142.90" y="706.20" font-size="11.6" text-anchor="middle" font-weight="normal" >Time (d)</text>
<text transform="translate(32.80,585.20) rotate(-90)" font-size="11.8" text-anchor="middle">Tumor volume (mm<tspan font-size="7.2" dy="-4.6">3</tspan><tspan dy="4.6">)</tspan></text>
<line x1="82.50" y1="501.00" x2="104.50" y2="501.00" stroke="#8cc540" stroke-width="2.1" />
<text x="107.00" y="504.50" font-size="9.5" text-anchor="start" font-weight="normal" >CT26-wt</text>
<line x1="82.50" y1="512.30" x2="104.50" y2="512.30" stroke="#ec1c2a" stroke-width="2.1" />
<text x="107.00" y="515.80" font-size="9.5" text-anchor="start" font-weight="normal" >CT26-mP2X7c2</text>
<line x1="82.50" y1="523.60" x2="104.50" y2="523.60" stroke="#8cc540" stroke-width="2.1" stroke-dasharray="1.6,1.6"/>
<text x="107.00" y="527.10" font-size="9.5" text-anchor="start" font-weight="normal" >CT26-wt oATP</text>
<line x1="82.50" y1="534.90" x2="104.50" y2="534.90" stroke="#ec1c2a" stroke-width="2.1" stroke-dasharray="1.6,1.6"/>
<text x="107.00" y="538.40" font-size="9.5" text-anchor="start" font-weight="normal" >CT26-mP2X7c2 oATP</text>
<line x1="185.00" y1="623.75" x2="185.00" y2="603.75" stroke="#1a1a1a" stroke-width="1.25" />
<line x1="182.60" y1="603.75" x2="187.40" y2="603.75" stroke="#1a1a1a" stroke-width="1.25" />
<line x1="200.50" y1="585.75" x2="200.50" y2="558.00" stroke="#1a1a1a" stroke-width="1.25" />
<line x1="198.10" y1="558.00" x2="202.90" y2="558.00" stroke="#1a1a1a" stroke-width="1.25" />
<line x1="216.00" y1="563.75" x2="216.00" y2="533.00" stroke="#1a1a1a" stroke-width="1.25" />
<line x1="213.60" y1="533.00" x2="218.40" y2="533.00" stroke="#1a1a1a" stroke-width="1.25" />
<line x1="231.50" y1="536.25" x2="231.50" y2="499.50" stroke="#1a1a1a" stroke-width="1.25" />
<line x1="229.10" y1="499.50" x2="233.90" y2="499.50" stroke="#1a1a1a" stroke-width="1.25" />
<line x1="216.00" y1="656.80" x2="216.00" y2="651.20" stroke="#1a1a1a" stroke-width="1.25" />
<line x1="213.60" y1="651.20" x2="218.40" y2="651.20" stroke="#1a1a1a" stroke-width="1.25" />
<polyline points="76.50,673.50 107.50,673.00 138.50,671.50 185.00,665.00 200.50,661.50 216.00,661.50 231.50,652.80" fill="none" stroke="#8cc540" stroke-width="1.8" stroke-linejoin="round" stroke-linecap="round" />
<polyline points="76.50,673.80 107.50,673.50 138.50,672.00 185.00,666.50 200.50,663.00 216.00,659.00 231.50,655.00" fill="none" stroke="#8cc540" stroke-width="1.8" stroke-linejoin="round" stroke-linecap="round" stroke-dasharray="1.6,2"/>
<polyline points="76.50,673.00 107.50,673.00 138.50,672.00 185.00,667.60 200.50,666.60 216.00,656.80 231.50,659.50" fill="none" stroke="#b0202a" stroke-width="2.0" stroke-linejoin="round" stroke-linecap="round" stroke-dasharray="1.6,2"/>
<circle cx="76.50" cy="673.50" r="3.6" fill="#8cc540"/>
<circle cx="107.50" cy="673.00" r="3.6" fill="#8cc540"/>
<circle cx="138.50" cy="671.50" r="3.6" fill="#8cc540"/>
<circle cx="185.00" cy="665.00" r="3.6" fill="#8cc540"/>
<circle cx="200.50" cy="661.50" r="3.6" fill="#8cc540"/>
<circle cx="216.00" cy="661.50" r="3.6" fill="#8cc540"/>
<circle cx="231.50" cy="652.80" r="3.6" fill="#8cc540"/>
<rect x="72.90" y="669.40" width="7.2" height="7.2" fill="#ec1c2a"/>
<rect x="103.90" y="669.40" width="7.2" height="7.2" fill="#ec1c2a"/>
<rect x="134.90" y="668.40" width="7.2" height="7.2" fill="#ec1c2a"/>
<rect x="181.40" y="664.00" width="7.2" height="7.2" fill="#ec1c2a"/>
<rect x="196.90" y="663.00" width="7.2" height="7.2" fill="#ec1c2a"/>
<rect x="212.40" y="653.20" width="7.2" height="7.2" fill="#ec1c2a"/>
<rect x="227.90" y="655.90" width="7.2" height="7.2" fill="#ec1c2a"/>
<polyline points="76.50,671.60 107.50,671.20 138.50,668.40 185.00,623.75 200.50,585.75 216.00,563.75 231.50,536.25" fill="none" stroke="#ec1c2a" stroke-width="2.6" stroke-linejoin="round" stroke-linecap="round" />
<rect x="72.80" y="667.90" width="7.4" height="7.4" fill="#ec1c2a"/>
<rect x="103.80" y="667.50" width="7.4" height="7.4" fill="#ec1c2a"/>
<rect x="134.80" y="664.70" width="7.4" height="7.4" fill="#ec1c2a"/>
<rect x="181.30" y="620.05" width="7.4" height="7.4" fill="#ec1c2a"/>
<rect x="196.80" y="582.05" width="7.4" height="7.4" fill="#ec1c2a"/>
<rect x="212.30" y="560.05" width="7.4" height="7.4" fill="#ec1c2a"/>
<rect x="227.80" y="532.55" width="7.4" height="7.4" fill="#ec1c2a"/>
<circle cx="185.00" cy="598.80" r="1.4" fill="#151515"/>
<circle cx="200.50" cy="551.80" r="1.4" fill="#151515"/>
<circle cx="213.50" cy="526.30" r="1.4" fill="#151515"/>
<circle cx="218.50" cy="526.30" r="1.4" fill="#151515"/>
<circle cx="229.00" cy="493.00" r="1.4" fill="#151515"/>
<circle cx="234.00" cy="493.00" r="1.4" fill="#151515"/>
<text x="266.90" y="493.80" font-size="16.5" text-anchor="start" font-weight="bold" >F</text>
<defs>
<linearGradient id="bg" x1="0" y1="0" x2="0" y2="1"><stop offset="0" stop-color="#f4f3f3"/><stop offset="1" stop-color="#efeceb"/></linearGradient>
<linearGradient id="rul" x1="0" y1="0" x2="0" y2="1"><stop offset="0" stop-color="#c9d1d8"/><stop offset="0.25" stop-color="#d4dbe1"/><stop offset="1" stop-color="#dde2e6"/></linearGradient>
<radialGradient id="t1" cx="0.58" cy="0.42" r="0.6"><stop offset="0" stop-color="#dc2027"/><stop offset="0.55" stop-color="#e2352f"/><stop offset="0.85" stop-color="#f07a4c"/><stop offset="1" stop-color="#f6b89a" stop-opacity="0.6"/></radialGradient>
<radialGradient id="t2" cx="0.5" cy="0.55" r="0.55"><stop offset="0" stop-color="#f2946a"/><stop offset="0.5" stop-color="#ee7448"/><stop offset="0.85" stop-color="#f09060"/><stop offset="1" stop-color="#f8c8b0" stop-opacity="0.6"/></radialGradient>
<radialGradient id="t3" cx="0.5" cy="0.5" r="0.6"><stop offset="0" stop-color="#d6202c"/><stop offset="0.7" stop-color="#de2c34"/><stop offset="1" stop-color="#e8585c"/></radialGradient>
<radialGradient id="t4" cx="0.5" cy="0.5" r="0.55"><stop offset="0" stop-color="#ea6a78"/><stop offset="0.6" stop-color="#ec7a86"/><stop offset="0.9" stop-color="#f2a8b0"/><stop offset="1" stop-color="#f6d0d4" stop-opacity="0.5"/></radialGradient>
<filter id="sb" x="-20%" y="-20%" width="140%" height="140%"><feGaussianBlur stdDeviation="0.7"/></filter>
<filter id="sb2" x="-50%" y="-50%" width="200%" height="200%"><feGaussianBlur stdDeviation="1.0"/></filter>
</defs>
<rect x="329.7" y="612.3" width="162.3" height="61.5" fill="url(#bg)"/>
<path d="M331.3,673.6 L331.3,653 Q331.3,646.2 338,646.2 L492,646.2 L492,673.6 Z" fill="url(#rul)"/>
<path d="M331.6,657 L331.6,653 Q331.6,646.5 338,646.5 L492,646.5" fill="none" stroke="#a8b0b8" stroke-width="0.9"/>
<line x1="337.83" y1="646.60" x2="337.83" y2="655.20" stroke="#6a6f74" stroke-width="0.8" />
<line x1="340.42" y1="646.60" x2="340.42" y2="655.20" stroke="#6a6f74" stroke-width="0.8" />
<line x1="343.01" y1="646.60" x2="343.01" y2="655.20" stroke="#6a6f74" stroke-width="0.8" />
<line x1="345.60" y1="646.60" x2="345.60" y2="658.10" stroke="#6a6f74" stroke-width="0.8" />
<line x1="348.19" y1="646.60" x2="348.19" y2="655.20" stroke="#6a6f74" stroke-width="0.8" />
<line x1="350.78" y1="646.60" x2="350.78" y2="655.20" stroke="#6a6f74" stroke-width="0.8" />
<line x1="353.37" y1="646.60" x2="353.37" y2="655.20" stroke="#6a6f74" stroke-width="0.8" />
<line x1="355.96" y1="646.60" x2="355.96" y2="655.20" stroke="#6a6f74" stroke-width="0.8" />
<line x1="358.55" y1="646.60" x2="358.55" y2="658.90" stroke="#6a6f74" stroke-width="0.8" />
<line x1="361.14" y1="646.60" x2="361.14" y2="655.20" stroke="#6a6f74" stroke-width="0.8" />
<line x1="363.73" y1="646.60" x2="363.73" y2="655.20" stroke="#6a6f74" stroke-width="0.8" />
<line x1="366.32" y1="646.60" x2="366.32" y2="655.20" stroke="#6a6f74" stroke-width="0.8" />
<line x1="368.91" y1="646.60" x2="368.91" y2="655.20" stroke="#6a6f74" stroke-width="0.8" />
<line x1="371.50" y1="646.60" x2="371.50" y2="658.10" stroke="#6a6f74" stroke-width="0.8" />
<line x1="374.09" y1="646.60" x2="374.09" y2="655.20" stroke="#6a6f74" stroke-width="0.8" />
<line x1="376.68" y1="646.60" x2="376.68" y2="655.20" stroke="#6a6f74" stroke-width="0.8" />
<line x1="379.27" y1="646.60" x2="379.27" y2="655.20" stroke="#6a6f74" stroke-width="0.8" />
<line x1="381.86" y1="646.60" x2="381.86" y2="655.20" stroke="#6a6f74" stroke-width="0.8" />
<line x1="384.45" y1="646.60" x2="384.45" y2="658.90" stroke="#6a6f74" stroke-width="0.8" />
<line x1="387.04" y1="646.60" x2="387.04" y2="655.20" stroke="#6a6f74" stroke-width="0.8" />
<line x1="389.63" y1="646.60" x2="389.63" y2="655.20" stroke="#6a6f74" stroke-width="0.8" />
<line x1="392.22" y1="646.60" x2="392.22" y2="655.20" stroke="#6a6f74" stroke-width="0.8" />
<line x1="394.81" y1="646.60" x2="394.81" y2="655.20" stroke="#6a6f74" stroke-width="0.8" />
<line x1="397.40" y1="646.60" x2="397.40" y2="658.10" stroke="#6a6f74" stroke-width="0.8" />
<line x1="399.99" y1="646.60" x2="399.99" y2="655.20" stroke="#6a6f74" stroke-width="0.8" />
<line x1="402.58" y1="646.60" x2="402.58" y2="655.20" stroke="#6a6f74" stroke-width="0.8" />
<line x1="405.17" y1="646.60" x2="405.17" y2="655.20" stroke="#6a6f74" stroke-width="0.8" />
<line x1="407.76" y1="646.60" x2="407.76" y2="655.20" stroke="#6a6f74" stroke-width="0.8" />
<line x1="410.35" y1="646.60" x2="410.35" y2="658.90" stroke="#6a6f74" stroke-width="0.8" />
<line x1="412.94" y1="646.60" x2="412.94" y2="655.20" stroke="#6a6f74" stroke-width="0.8" />
<line x1="415.53" y1="646.60" x2="415.53" y2="655.20" stroke="#6a6f74" stroke-width="0.8" />
<line x1="418.12" y1="646.60" x2="418.12" y2="655.20" stroke="#6a6f74" stroke-width="0.8" />
<line x1="420.71" y1="646.60" x2="420.71" y2="655.20" stroke="#6a6f74" stroke-width="0.8" />
<line x1="423.30" y1="646.60" x2="423.30" y2="658.10" stroke="#6a6f74" stroke-width="0.8" />
<line x1="425.89" y1="646.60" x2="425.89" y2="655.20" stroke="#6a6f74" stroke-width="0.8" />
<line x1="428.48" y1="646.60" x2="428.48" y2="655.20" stroke="#6a6f74" stroke-width="0.8" />
<line x1="431.07" y1="646.60" x2="431.07" y2="655.20" stroke="#6a6f74" stroke-width="0.8" />
<line x1="433.66" y1="646.60" x2="433.66" y2="655.20" stroke="#6a6f74" stroke-width="0.8" />
<line x1="436.25" y1="646.60" x2="436.25" y2="658.90" stroke="#6a6f74" stroke-width="0.8" />
<line x1="438.84" y1="646.60" x2="438.84" y2="655.20" stroke="#6a6f74" stroke-width="0.8" />
<line x1="441.43" y1="646.60" x2="441.43" y2="655.20" stroke="#6a6f74" stroke-width="0.8" />
<line x1="444.02" y1="646.60" x2="444.02" y2="655.20" stroke="#6a6f74" stroke-width="0.8" />
<line x1="446.61" y1="646.60" x2="446.61" y2="655.20" stroke="#6a6f74" stroke-width="0.8" />
<line x1="449.20" y1="646.60" x2="449.20" y2="658.10" stroke="#6a6f74" stroke-width="0.8" />
<line x1="451.79" y1="646.60" x2="451.79" y2="655.20" stroke="#6a6f74" stroke-width="0.8" />
<line x1="454.38" y1="646.60" x2="454.38" y2="655.20" stroke="#6a6f74" stroke-width="0.8" />
<line x1="456.97" y1="646.60" x2="456.97" y2="655.20" stroke="#6a6f74" stroke-width="0.8" />
<line x1="459.56" y1="646.60" x2="459.56" y2="655.20" stroke="#6a6f74" stroke-width="0.8" />
<line x1="462.15" y1="646.60" x2="462.15" y2="658.90" stroke="#6a6f74" stroke-width="0.8" />
<line x1="464.74" y1="646.60" x2="464.74" y2="655.20" stroke="#6a6f74" stroke-width="0.8" />
<line x1="467.33" y1="646.60" x2="467.33" y2="655.20" stroke="#6a6f74" stroke-width="0.8" />
<line x1="469.92" y1="646.60" x2="469.92" y2="655.20" stroke="#6a6f74" stroke-width="0.8" />
<line x1="472.51" y1="646.60" x2="472.51" y2="655.20" stroke="#6a6f74" stroke-width="0.8" />
<line x1="475.10" y1="646.60" x2="475.10" y2="658.10" stroke="#6a6f74" stroke-width="0.8" />
<line x1="477.69" y1="646.60" x2="477.69" y2="655.20" stroke="#6a6f74" stroke-width="0.8" />
<line x1="480.28" y1="646.60" x2="480.28" y2="655.20" stroke="#6a6f74" stroke-width="0.8" />
<line x1="482.87" y1="646.60" x2="482.87" y2="655.20" stroke="#6a6f74" stroke-width="0.8" />
<line x1="485.46" y1="646.60" x2="485.46" y2="655.20" stroke="#6a6f74" stroke-width="0.8" />
<line x1="488.05" y1="646.60" x2="488.05" y2="658.90" stroke="#6a6f74" stroke-width="0.8" />
<line x1="490.64" y1="646.60" x2="490.64" y2="655.20" stroke="#6a6f74" stroke-width="0.8" />
<text x="345.90" y="669.40" font-size="10.6" text-anchor="middle" font-weight="normal" fill="#474b50" style="stroke:#474b50;stroke-width:0.2px">0</text>
<text x="370.20" y="669.40" font-size="10.6" text-anchor="middle" font-weight="normal" fill="#474b50" style="stroke:#474b50;stroke-width:0.2px">1</text>
<text x="395.90" y="669.40" font-size="10.6" text-anchor="middle" font-weight="normal" fill="#474b50" style="stroke:#474b50;stroke-width:0.2px">2</text>
<text x="422.00" y="669.40" font-size="10.6" text-anchor="middle" font-weight="normal" fill="#474b50" style="stroke:#474b50;stroke-width:0.2px">3</text>
<text x="448.20" y="669.40" font-size="10.6" text-anchor="middle" font-weight="normal" fill="#474b50" style="stroke:#474b50;stroke-width:0.2px">4</text>
<text x="474.80" y="669.40" font-size="10.6" text-anchor="middle" font-weight="normal" fill="#474b50" style="stroke:#474b50;stroke-width:0.2px">5</text>
<g filter="url(#sb)">
<ellipse cx="351.2" cy="635.6" rx="8.6" ry="6.8" fill="url(#t1)"/>
<ellipse cx="353" cy="634.5" rx="4.5" ry="3.5" fill="#d81c28" opacity="0.7"/>
<ellipse cx="381.3" cy="633.3" rx="9.4" ry="9.4" fill="url(#t2)"/>
<path filter="url(#sb2)" d="M376.5,626 L381,624 L384.5,628 L380,629.5 Z" fill="#e0302e" opacity="0.9"/>
<path filter="url(#sb2)" d="M385,629.5 L390,628.5 L388.5,635.5 L384.5,634 Z" fill="#dc2a30" opacity="0.9"/>
<ellipse cx="379.5" cy="635" rx="3" ry="2.5" fill="#f8c2a2" opacity="0.8"/>
<ellipse cx="383.5" cy="638.5" rx="2.5" ry="1.6" fill="#f6b89a" opacity="0.8"/>
<path d="M416.80,615.20 C419.03,614.00 421.92,612.93 424.20,612.60 C426.48,612.27 428.70,612.72 430.50,613.20 C432.30,613.68 433.33,614.67 435.00,615.50 C436.67,616.33 438.43,617.25 440.50,618.20 C442.57,619.15 445.53,620.02 447.40,621.20 C449.27,622.38 450.95,623.78 451.70,625.30 C452.45,626.82 452.35,628.72 451.90,630.30 C451.45,631.88 450.40,633.48 449.00,634.80 C447.60,636.12 445.67,637.20 443.50,638.20 C441.33,639.20 438.42,639.97 436.00,640.80 C433.58,641.63 431.33,642.62 429.00,643.20 C426.67,643.78 424.08,644.47 422.00,644.30 C419.92,644.13 418.07,643.30 416.50,642.20 C414.93,641.10 413.78,639.32 412.60,637.70 C411.42,636.08 410.12,634.43 409.40,632.50 C408.68,630.57 408.07,628.22 408.30,626.10 C408.53,623.98 409.38,621.62 410.80,619.80 C412.22,617.98 414.57,616.40 416.80,615.20Z" fill="url(#t3)"/>
<ellipse filter="url(#sb2)" cx="419" cy="621" rx="4.5" ry="3" fill="#f07a80" opacity="0.45"/>
<ellipse filter="url(#sb2)" cx="427" cy="617.5" rx="3.5" ry="2" fill="#f4989c" opacity="0.45"/>
<ellipse filter="url(#sb2)" cx="446" cy="627" rx="3" ry="2.5" fill="#ee7478" opacity="0.45"/>
<ellipse filter="url(#sb2)" cx="423" cy="638" rx="3.5" ry="2.5" fill="#ee7a80" opacity="0.45"/>
<ellipse filter="url(#sb2)" cx="433" cy="629" rx="6" ry="4.5" fill="#c81a26" opacity="0.35"/>
<ellipse filter="url(#sb2)" cx="440" cy="634" rx="3" ry="2" fill="#f0807e" opacity="0.35"/>
<ellipse filter="url(#sb2)" cx="413" cy="629" rx="2.5" ry="3.5" fill="#e85a60" opacity="0.4"/>
<ellipse cx="473.8" cy="634.6" rx="9.6" ry="9.2" fill="url(#t4)"/>
<ellipse cx="473" cy="638.5" rx="3.5" ry="2.2" fill="#fbe0e4" opacity="0.85"/>
<ellipse cx="476.5" cy="631" rx="2.5" ry="2" fill="#e4505e" opacity="0.6"/>
</g>
<text transform="translate(344.90,608.60) rotate(-70)" font-size="11.4">wt</text>
<text transform="translate(377.20,608.60) rotate(-70)" font-size="11.4">wt+oATP</text>
<text transform="translate(424.20,609.20) rotate(-70)" font-size="11.4">P2X7c2</text>
<text transform="translate(471.60,609.20) rotate(-70)" font-size="11.4">P2X7c2+oATP</text>
</g>
</svg>
<div style="position:absolute;left:0;top:0;width:1px;height:728px;background:#787878"></div>
<div style="position:absolute;left:1px;top:0;width:1px;height:728px;background:#a5a5a5"></div>
<div style="position:absolute;left:2px;top:0;width:1px;height:728px;background:#ebebeb"></div>
<div style="position:absolute;left:519px;top:0;width:1px;height:728px;background:#787878"></div>
<div style="position:absolute;left:518px;top:0;width:1px;height:728px;background:#aaaaaa"></div>
<div style="position:absolute;left:517px;top:0;width:1px;height:728px;background:#f0f0f0"></div>
<div style="position:absolute;left:0;top:0;width:520px;height:1px;background:#787878"></div>
<div style="position:absolute;left:0;top:1px;width:520px;height:1px;background:#aaaaaa"></div>
<div style="position:absolute;left:3px;top:2px;width:514px;height:1px;background:#f0f0f0"></div>
<div style="position:absolute;left:0;top:727px;width:520px;height:1px;background:#aaaaaa"></div>
<div style="position:absolute;left:0;top:726px;width:520px;height:1px;background:#8a8a8a"></div>
<div style="position:absolute;left:3px;top:725px;width:514px;height:1px;background:#d2d2d2"></div>
</div></body></html>
